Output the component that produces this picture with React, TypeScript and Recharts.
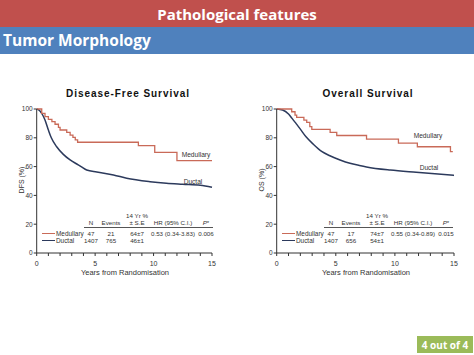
import React from 'react';
import { LineChart, Line, XAxis, YAxis } from 'recharts';

// Disease-free survival (year, %)
const dfsMedullary: [number, number][] = [
  [0, 100], [0.43, 97], [0.71, 94.7], [1.0, 92.8], [1.3, 91.2], [1.57, 89.4], [1.86, 87.3],
  [2.0, 85.4], [2.57, 83.8], [2.86, 81.9], [3.1, 80.3], [3.3, 78.5], [3.5, 76.9],
  [8.7, 74.5], [10.1, 69.9], [12.0, 64.1], [15, 64.1],
];
const dfsDuctal: [number, number][] = [
  [0, 100], [0.3, 98.5], [0.5, 96], [0.71, 92.4], [1.0, 85.4], [1.25, 80], [1.71, 73.8],
  [2.28, 68.5], [2.86, 64.6], [3.43, 61.8], [3.8, 60], [4.28, 57.6], [5.14, 56.2],
  [6.57, 54.2], [7.7, 51.9], [9.7, 49.5], [11.1, 48.4], [12.5, 47.7], [14, 47.0], [15, 45.6],
];

// Overall survival (year, %)
const osMedullary: [number, number][] = [
  [0, 100], [1.27, 98.1], [1.55, 95.8], [1.69, 94.2], [2.3, 92.3], [2.54, 90.7], [2.8, 87.7],
  [2.97, 85.9], [4.52, 83.8], [5.08, 81.6], [7.6, 79.1], [10.3, 76.3], [11.9, 73.8],
  [14.7, 70.4], [14.9, 70.4],
];
const osDuctal: [number, number][] = [
  [0, 100], [0.5, 99.3], [1.0, 96.5], [1.3, 93.5], [1.63, 90], [2.0, 86], [2.5, 80.5],
  [3.1, 75.5], [3.8, 70.5], [4.5, 67.5], [5.36, 64.6], [6.2, 62.3], [7.0, 60.8],
  [7.6, 59.8], [9.6, 57.6], [11.8, 56], [15, 53.9],
];

const xTicks = [0, 1, 2, 3, 4, 5, 6, 7, 8, 9, 10, 11, 12, 13, 14, 15];
const xLabelTicks = [0, 5, 10, 15];
const yTicks = [0, 20, 40, 60, 80, 100];

const tableHeader = ['N', 'Events', '± S.E', 'HR (95% C.I.)', 'P*'];
const dfsMedRow = ['47', '21', '64±7', '0.53 (0.34-3.83)', '0.006'];
const dfsDucRow = ['1407', '765', '46±1', '', ''];
const osMedRow = ['47', '17', '74±7', '0.55 (0.34-0.89)', '0.015'];
const osDucRow = ['1407', '656', '54±1', '', ''];

const MED = '#c96a58';
const DUC = '#2c3a5c';
const FONT = '"Liberation Sans", Arial, sans-serif';
const TXT = '#333';

const toData = (arr: [number, number][]) => arr.map(([t, v]) => ({ t, v }));

const colX = [91, 111, 137, 173, 206];

function T({ x, y, size, children, bold, ls, color, rotate, align }: any) {
  const tx = align === 'left' ? '0' : '-50%';
  return (
    <div
      style={{
        position: 'absolute', left: x, top: y, whiteSpace: 'nowrap', lineHeight: 1,
        fontFamily: FONT, fontSize: size, fontWeight: bold ? 700 : 400,
        letterSpacing: ls || 0, color: color || TXT,
        transform: `translate(${tx}, -50%)${rotate ? ` rotate(${rotate}deg)` : ''}`,
        transformOrigin: 'center',
      }}
    >
      {children}
    </div>
  );
}

function Panel({ left, title, yLabel, med, duc, medRow, ducRow, marginRight, medLbl, ducLbl, xTitleX }: any) {
  return (
    <div style={{ position: 'absolute', left, top: 80, width: 240, height: 200 }}>
      <LineChart width={240} height={200} margin={{ top: 29, right: marginRight, bottom: 0, left: 0 }}>
        <XAxis
          type="number" dataKey="t" domain={[0, 15]} ticks={xTicks} height={27}
          allowDuplicatedCategory={false}
          tickFormatter={(v: number) => (xLabelTicks.includes(v) ? String(v) : '')}
          tick={{ fontSize: 7, fill: TXT, fontFamily: FONT }}
          tickSize={3} tickMargin={5} axisLine={{ stroke: '#333' }} tickLine={{ stroke: '#333' }}
          interval={0}
        />
        <YAxis
          type="number" domain={[0, 100]} ticks={yTicks} width={36.7}
          tick={{ fontSize: 6.5, fill: TXT, fontFamily: FONT }}
          tickSize={3} tickMargin={1} axisLine={{ stroke: '#333' }} tickLine={{ stroke: '#333' }}
          interval={0}
        />
        <Line data={toData(duc)} dataKey="v" type="monotone" stroke={DUC} strokeWidth={1.5} dot={false} isAnimationActive={false} />
        <Line data={toData(med)} dataKey="v" type="stepAfter" stroke={MED} strokeWidth={1.3} dot={false} isAnimationActive={false} />
      </LineChart>
      <T x={128} y={14} size={10} bold ls={0.95} color="#111">{title}</T>
      <T x={21} y={100} size={7} rotate={-90}>{yLabel}</T>
      <T x={xTitleX} y={193} size={7.5}>Years from Randomisation</T>
      <T x={medLbl[0]} y={medLbl[1]} size={6.6}>Medullary</T>
      <T x={ducLbl[0]} y={ducLbl[1]} size={6.6}>Ductal</T>
      <T x={colX[2]} y={136} size={6.2}>14 Yr %</T>
      {tableHeader.map((h, i) => (
        <T key={h} x={colX[i]} y={142.7} size={6.2}>
          {h === 'P*' ? <span><i>P</i>*</span> : h}
        </T>
      ))}
      <div style={{ position: 'absolute', left: 84, top: 146.5, width: 129, height: 0, borderTop: '0.8px solid #555' }} />
      <div style={{ position: 'absolute', left: 42, top: 153, width: 13, height: 0, borderTop: `1.2px solid ${MED}` }} />
      <div style={{ position: 'absolute', left: 42, top: 160.2, width: 13, height: 0, borderTop: `1.4px solid ${DUC}` }} />
      <T x={56} y={153.5} size={6.4} align="left">Medullary</T>
      <T x={56} y={160.7} size={6.4} align="left">Ductal</T>
      {medRow.map((c: string, i: number) => c && <T key={'m' + i} x={colX[i]} y={153.5} size={6.2}>{c}</T>)}
      {ducRow.map((c: string, i: number) => c && <T key={'d' + i} x={colX[i]} y={160.7} size={6.2}>{c}</T>)}
    </div>
  );
}

export default function App() {
  return (
    <div style={{ position: 'absolute', left: 0, top: 0, width: 474, height: 355, background: '#fff', overflow: 'hidden' }}>
      <div style={{ position: 'absolute', left: 0, top: 0, width: 474, height: 27, background: '#C0504D' }} />
      <div style={{ position: 'absolute', left: 0, top: 27, width: 474, height: 27, background: '#4F81BD' }} />
      <div style={{ position: 'absolute', left: 237, top: 13.5, transform: 'translate(-50%,-50%)', color: '#fff', fontFamily: '"Open Sans", sans-serif', fontWeight: 700, fontSize: 15, whiteSpace: 'nowrap', lineHeight: 1 }}>
        Pathological features
      </div>
      <div style={{ position: 'absolute', left: 3, top: 41, transform: 'translateY(-50%)', color: '#fff', fontFamily: '"Open Sans", sans-serif', fontWeight: 700, fontSize: 15.5, whiteSpace: 'nowrap', lineHeight: 1 }}>
        Tumor Morphology
      </div>
      <Panel left={0} title="Disease-Free Survival" yLabel="DFS (%)" med={dfsMedullary} duc={dfsDuctal}
        medRow={dfsMedRow} ducRow={dfsDucRow} marginRight={28} medLbl={[196, 75]} ducLbl={[193, 101.5]} xTitleX={125} />
      <Panel left={240} title="Overall Survival" yLabel="OS (%)" med={osMedullary} duc={osDuctal}
        medRow={osMedRow} ducRow={osDucRow} marginRight={26} medLbl={[188, 56]} ducLbl={[189, 88]} xTitleX={126} />
      <div style={{ position: 'absolute', left: 417, top: 336, width: 56, height: 17, background: '#9BBB59', color: '#fff', fontFamily: '"Open Sans", sans-serif', fontWeight: 700, fontSize: 10, display: 'flex', alignItems: 'center', justifyContent: 'center', whiteSpace: 'nowrap' }}>
        4 out of 4
      </div>
    </div>
  );
}
